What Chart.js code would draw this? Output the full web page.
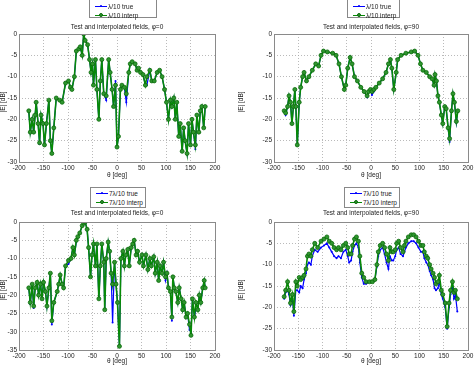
<!DOCTYPE html>
<html>
<head>
<meta charset="utf-8">
<script src="https://cdn.jsdelivr.net/npm/chart.js@4.4.1/dist/chart.umd.min.js"></script>
<style>
  html, body { margin: 0; padding: 0; background: #fff; width: 474px; height: 366px; overflow: hidden; position: relative; font-family: "Liberation Sans", Arial, sans-serif; }
  canvas { position: absolute; }
  .lbl { position: absolute; font-size: 6.5px; color: #222; white-space: nowrap; line-height: 8px; }
  .title { transform: translate(-50%, -50%); }
  .ylab { transform: translate(-50%, -50%) rotate(-90deg); }
  .legend { position: absolute; box-sizing: border-box; border: 1px solid #888; background: #fff; font-size: 6.5px; color: #222; padding-left: 5px; }
  .legend .row { height: 9px; line-height: 9px; display: flex; align-items: center; white-space: nowrap; }
  .legend .sw { position: relative; width: 12px; height: 9px; margin-right: 1px; flex: none; }
  .legend .sw .ln { position: absolute; left: 0; right: 0; top: 4px; height: 1px; }
  .legend .sw .dot { position: absolute; left: 4px; top: 2.5px; width: 4px; height: 4px; border-radius: 50%; }
</style>
</head>
<body>
<canvas id="tl" width="237" height="150" style="left:0px;top:26px"></canvas>
<canvas id="tr" width="250" height="150" style="left:237px;top:26px"></canvas>
<canvas id="bl" width="237" height="150" style="left:0px;top:214px"></canvas>
<canvas id="br" width="250" height="150" style="left:237px;top:214px"></canvas>

<div class="lbl title" style="left:117px;top:27px">Test and interpolated fields, φ=0</div>
<div class="lbl title" style="left:371px;top:27px">Test and interpolated fields, φ=90</div>
<div class="lbl title" style="left:117px;top:213px">Test and interpolated fields, φ=0</div>
<div class="lbl title" style="left:371px;top:213px">Test and interpolated fields, φ=90</div>

<div class="lbl title" style="left:117px;top:175px">θ [deg]</div>
<div class="lbl title" style="left:371px;top:175px">θ [deg]</div>
<div class="lbl title" style="left:117px;top:361px">θ [deg]</div>
<div class="lbl title" style="left:371px;top:361px">θ [deg]</div>

<div class="lbl ylab" style="left:3px;top:102px">|E| [dB]</div>
<div class="lbl ylab" style="left:241px;top:102px">|E| [dB]</div>
<div class="lbl ylab" style="left:3px;top:290px">|E| [dB]</div>
<div class="lbl ylab" style="left:241px;top:290px">|E| [dB]</div>

<div class="legend" id="lg-tl" style="left:89px;top:-4px;width:68px;height:22px;padding-top:4.5px"></div>
<div class="legend" id="lg-tr" style="left:347px;top:-4px;width:53px;height:22px;padding-top:4.5px"></div>
<div class="legend" id="lg-bl" style="left:90px;top:187px;width:56px;height:21px;padding-top:0.5px"></div>
<div class="legend" id="lg-br" style="left:344px;top:187px;width:56px;height:21px;padding-top:0.5px"></div>

<script>
// theta [deg] and |E| [dB]
const tlTheta = [-180,-177,-173,-170,-167,-165,-161,-158,-155,-151,-148,-144,-139,-136,-133,-129,-124,-117,-112,-105,-99,-95,-92,-87,-83,-78,-75,-71,-68,-65,-60,-56,-53,-50,-48,-44,-41,-37,-34,-31,-27,-22,-17,-14,-10,-7,-3,0,3,7,10,15,19,24,27,31,37,41,44,48,53,58,61,67,71,76,82,87,92,97,101,105,109,112,116,119,122,126,129,133,136,139,143,146,150,153,156,160,163,167,170,173,177,180];
const tlInterp = [-18,-23,-20,-23,-19,-16,-21,-25.5,-19,-21,-26,-21,-15.5,-25,-28,-22,-15,-15.5,-16,-11.5,-11,-12.5,-13,-10,-4,-3.5,-3,-5,0,-1.5,-2.5,-6,-9,-7,-12,-6,-13,-20,-11,-6,-14,-14.5,-6,-9,-13,-17,-12,-26.5,-24,-13,-12,-12.5,-14,-9,-7,-6.5,-7,-8.5,-8,-9,-9.5,-12,-10,-8.5,-11,-11,-9,-8.5,-10,-13,-16,-20,-15.5,-17,-15,-20,-16,-24,-21,-27.5,-22,-25,-28,-21,-26,-20,-23,-26,-19,-23,-18,-17,-22,-17];
const tlTrue = [-18,-23,-20,-23,-19,-16,-21,-25.8,-19,-21,-26,-21,-15.5,-25,-28,-22,-15,-15.5,-16,-11.5,-11,-12.5,-13,-10,-4,-3.5,-3,-5,0,-1.5,-2.5,-6,-9,-7,-12,-6,-13,-20,-11,-6,-14,-15.5,-6,-9,-13,-17,-11,-26.5,-24,-13,-12,-12.5,-16,-9,-7,-6.5,-7,-8.5,-8,-9,-9.5,-12,-12,-8.5,-11,-11,-9,-8.5,-10,-13,-16,-20,-15.5,-17,-15,-20,-16,-24,-21,-27.5,-22,-25,-28,-21,-26,-20,-23,-27,-19,-23,-18,-17,-22,-17];

const trTheta = [-179,-176,-172,-169,-166,-163,-160,-157,-155,-152,-148,-145,-141,-138,-133,-128,-121,-114,-108,-103,-98,-90,-79,-72,-66,-61,-55,-52,-48,-43,-39,-34,-28,-21,-14,-8,-5,-1,2,6,10,17,24,31,36,40,43,47,52,55,62,72,83,90,97,102,107,114,121,126,130,132,135,138,141,145,148,152,155,159,162,166,169,172,176,179];
const trInterp = [-18,-18.5,-17,-14.5,-16,-21,-17,-13,-17,-26,-16,-12.5,-10,-9,-11,-10,-8.5,-7,-7.5,-5,-4,-4.2,-4.5,-5,-7,-10,-13,-12,-8,-5.5,-7,-10,-11,-12.5,-13.5,-14.5,-13.5,-13,-13.5,-13,-12.5,-11.5,-10.5,-9,-7,-6,-8,-13,-9,-6,-5,-4.5,-4.2,-4,-5,-7,-8.5,-9,-10,-10.5,-12,-9.5,-11,-14.5,-16,-19,-21,-17,-17.5,-22,-24.5,-18,-14,-16,-20.5,-18];
const trTrue = [-18,-19,-17,-14.5,-16,-21,-17,-13,-17,-26,-16,-12.5,-10,-9,-11,-10,-8.5,-7,-7.5,-5,-4,-4.2,-4.5,-5,-7,-10,-13,-12,-8,-5.5,-7,-10,-11,-12.5,-13.5,-14.8,-13.5,-13,-14.3,-13.5,-12.5,-11.5,-10.5,-9,-7,-6,-8,-13,-9,-6,-5,-4.5,-4.2,-4,-5,-7,-8.5,-9,-10,-10.5,-12,-9.5,-11,-14.5,-16,-19,-21,-17,-17.5,-22,-25.3,-18,-14,-16,-20.8,-18];

const blTheta = [-180,-177,-173,-170,-167,-163,-160,-156,-153,-150,-146,-143,-139,-136,-133,-129,-122,-119,-116,-112,-109,-105,-99,-94,-90,-87,-83,-80,-76,-71,-68,-65,-61,-58,-54,-51,-48,-44,-41,-37,-34,-31,-27,-25,-22,-18,-15,-12,-9,-5,-2,1,5,8,12,15,18,22,25,29,32,35,39,42,46,51,54,59,63,67,70,75,78,82,85,88,92,95,99,102,105,109,112,114,117,120,124,127,131,134,137,141,144,148,151,154,158,161,165,168,171,175,178,180];
const blInterp = [-18,-22,-17,-23,-18,-16.5,-20,-17,-21,-16.5,-19,-23,-18,-14,-27,-22,-19,-17,-14.5,-17,-18,-12,-10.5,-10,-7,-9,-5,-4,-3,-1,-0.3,0,-2,-7,-15,-9,-6,-12,-6,-21,-12,-6,-11,-24,-10,-5.5,-8,-14,-17,-11,-17,-22,-34,-10,-8,-12,-9,-7.5,-12,-7,-6,-5,-9,-8,-11,-9,-12,-9,-13,-10,-12,-9.5,-14,-11,-16,-12,-14,-11,-15,-14,-18,-19,-26,-15,-18,-19,-22,-18,-21,-24,-22,-26,-25,-28,-31,-21,-26,-22,-24,-20,-22,-18,-16,-18];
const blTrue = [-18,-22.5,-17,-23.5,-18,-16.5,-20,-17,-21,-16.5,-19,-23,-18,-14,-28,-22,-19,-17,-14.5,-17,-18,-12,-11.5,-10,-7,-9,-5.5,-4,-3,-1,-0.3,0,-2,-7,-15,-9,-6,-12,-6,-21,-12,-6,-11,-24,-10,-5.5,-8,-14,-27.5,-11,-17,-22,-34,-10,-8,-12,-9,-7.5,-12,-7,-6,-5,-9,-8,-11,-9,-12,-9,-13,-10,-12,-9.5,-14,-11,-16,-12,-14,-11,-16,-14,-18,-19,-27,-15,-18,-19,-22,-18,-21,-24,-22,-26,-25,-29.5,-30,-21,-26,-24,-24,-20,-22,-18,-16,-18];

const brTheta = [-179,-176,-172,-169,-166,-162,-159,-155,-152,-148,-145,-141,-138,-134,-131,-128,-124,-121,-116,-110,-103,-97,-91,-86,-81,-76,-71,-67,-62,-57,-52,-48,-45,-41,-38,-34,-30,-26,-23,-19,-15,-10,-3,3,8,12,15,19,24,28,32,36,39,43,46,50,53,57,61,66,69,72,77,83,88,93,98,103,107,110,114,117,121,124,128,131,134,138,141,145,148,153,157,161,164,168,171,174,178];
const brInterp = [-17.5,-16,-14,-16,-19,-17,-21,-14,-15,-13,-13.5,-13,-12.5,-11,-8,-7.5,-8,-6.5,-5,-6,-4.5,-4,-3.5,-4.5,-5,-6,-6.5,-6,-6.5,-5.5,-5,-6,-7.5,-7.5,-5.5,-4,-3.5,-4.5,-8,-12,-13,-14,-14,-14,-13.5,-10,-7,-5.5,-5,-6,-7.5,-9,-6,-7,-7,-6.5,-5,-4.5,-6,-7,-5.5,-4.5,-3.5,-3,-3,-3.5,-4.5,-5.5,-5.5,-7,-8,-8.5,-10,-11,-12,-13,-14.5,-14,-12.5,-16,-17,-19,-24.5,-19,-16,-14,-16.5,-16,-18];
const brTrue = [-18,-16.5,-16,-17,-19.5,-18,-22,-16,-16,-16.5,-15,-15.5,-13.5,-12,-10,-9.5,-10,-8,-6.5,-7,-6,-5.5,-5,-6,-7,-8,-8.5,-8,-8.5,-7,-6.5,-8,-9.5,-9,-7,-5.5,-5,-6,-9.5,-13,-14.5,-14.5,-14,-14,-13.5,-10.5,-8,-6.5,-6,-7.5,-9.5,-11,-8,-9,-9,-8,-6.5,-6,-7.5,-8,-7,-6,-5,-4.5,-4.5,-5,-6,-7,-7,-8.5,-9.5,-10,-11.5,-12.5,-13.5,-15.5,-16,-15.5,-14,-17,-18,-20,-25,-20,-17,-15,-18,-17,-21];

const xTicks = [-200, 200, 50];
const GREEN = '#078a07';
const BLUE = '#0000ff';

Chart.defaults.font.family = '"Liberation Sans", Arial, sans-serif';
Chart.defaults.font.size = 6.5;
Chart.defaults.color = '#222';

function toPoints(theta, vals) {
    return theta.map((t, i) => ({ x: t, y: vals[i] }));
}

// matlab style box round the axes
const boxPlugin = {
    id: 'box',
    afterDraw(chart) {
        const a = chart.chartArea;
        const ctx = chart.ctx;
        ctx.save();
        ctx.strokeStyle = '#8a8a8a';
        ctx.lineWidth = 1;
        ctx.strokeRect(Math.round(a.left) + 0.5, Math.round(a.top) + 0.5, Math.round(a.right - a.left), Math.round(a.bottom - a.top));
        ctx.restore();
    }
};

function makeChart(id, theta, trueVals, interpVals, yMin, yw, xh, padTop, padRight) {
    const ctx = document.getElementById(id).getContext('2d');
    return new Chart(ctx, {
        type: 'line',
        data: {
            datasets: [
                {
                    label: 'interp',
                    data: toPoints(theta, interpVals),
                    borderColor: GREEN,
                    backgroundColor: GREEN,
                    borderWidth: 1.6,
                    pointRadius: 2,
                    pointBorderWidth: 0.8,
                    pointBorderColor: '#0a6a0a',
                    pointBackgroundColor: '#2f962f',
                    tension: 0,
                    order: 0
                },
                {
                    label: 'true',
                    data: toPoints(theta, trueVals),
                    borderColor: BLUE,
                    backgroundColor: BLUE,
                    borderWidth: 1.2,
                    pointRadius: 1,
                    pointBorderWidth: 0,
                    tension: 0,
                    order: 1
                }
            ]
        },
        options: {
            responsive: false,
            animation: false,
            events: [],
            layout: { padding: { top: padTop, right: padRight, left: 0, bottom: 0 } },
            plugins: { legend: { display: false }, tooltip: { enabled: false } },
            scales: {
                x: {
                    type: 'linear',
                    min: xTicks[0],
                    max: xTicks[1],
                    afterFit(scale) { scale.height = xh; },
                    ticks: { stepSize: xTicks[2], padding: 2, maxRotation: 0, autoSkip: false },
                    grid: { color: '#a8a8a8', lineWidth: 0.8, drawTicks: false },
                    border: { display: false, dash: [1, 2] }
                },
                y: {
                    min: yMin,
                    max: 0,
                    afterFit(scale) { scale.width = yw; },
                    ticks: { stepSize: 5, padding: 2, autoSkip: false },
                    grid: { color: '#a8a8a8', lineWidth: 0.8, drawTicks: false },
                    border: { display: false, dash: [1, 2] }
                }
            }
        },
        plugins: [boxPlugin]
    });
}

function fillLegend(id, prefix) {
    const el = document.getElementById(id);
    el.innerHTML = `
        <div class="row"><span class="sw"><span class="ln" style="background:${BLUE}"></span><span class="dot" style="background:${BLUE};transform:scale(0.5)"></span></span>${prefix} true</div>
        <div class="row"><span class="sw"><span class="ln" style="background:${GREEN};height:1.5px"></span><span class="dot" style="background:#2f962f;border:0.8px solid #0a6a0a;box-sizing:border-box"></span></span>${prefix} interp</div>
    `;
}

makeChart('tl', tlTheta, tlTrue, tlInterp, -30, 19, 14, 8, 22);
makeChart('tr', trTheta, trTrue, trInterp, -30, 37, 14, 8, 19);
makeChart('bl', blTheta, blTrue, blInterp, -35, 19, 14, 8, 22);
makeChart('br', brTheta, brTrue, brInterp, -30, 37, 14, 8, 19);

fillLegend('lg-tl', 'λ/10');
fillLegend('lg-tr', 'λ/10');
fillLegend('lg-bl', '7λ/10');
fillLegend('lg-br', '7λ/10');
</script>
</body>
</html>
